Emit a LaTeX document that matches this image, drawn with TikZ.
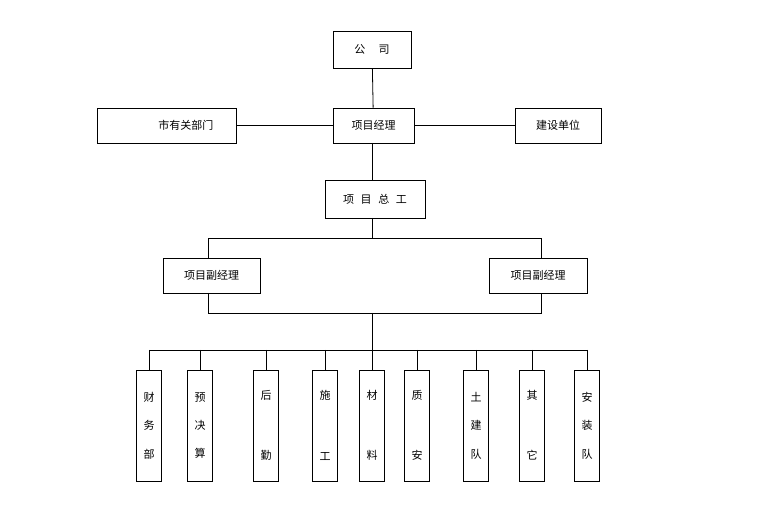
\documentclass[tikz,border=0pt]{standalone}
\usepackage{fontspec}
\setmainfont{Noto Sans CJK SC}
\begin{document}
\begin{tikzpicture}[x=1pt,y=-1pt,
  bx/.style={draw,line width=0.8pt,minimum height=35pt,inner sep=0pt,font=\fontsize{11}{13}\selectfont},
  vb/.style={draw,line width=0.8pt,minimum width=25pt,minimum height=111pt,inner sep=0pt,font=\fontsize{11}{13}\selectfont},
  ln/.style={line width=0.8pt}]
\useasboundingbox (0,0) rectangle (760,526);
\node[bx,minimum width=78pt,minimum height=37pt] (gs) at (372,49.5) {公\hspace{1.2em}司};
\node[bx,minimum width=81pt] (jl) at (373.5,125.5) {项目经理};
\node[bx,minimum width=139pt] (sy) at (166.5,125.5) {\hspace{3.5em}市有关部门};
\node[bx,minimum width=86pt] (js) at (558,125.5) {建设单位};
\node[bx,minimum width=100pt,minimum height=38pt] (zg) at (375,199) {项\hspace{0.6em}目\hspace{0.6em}总\hspace{0.6em}工};
\node[bx,minimum width=97pt] (fl) at (211.5,275.5) {项目副经理};
\node[bx,minimum width=98pt] (fr) at (538,275.5) {项目副经理};
\draw[ln] (gs) -- (jl);
\draw[ln] (sy) -- (jl);
\draw[ln] (jl) -- (js);
\draw[ln] (372,143) -- (372,180);
\coordinate (a) at (372,238);
\draw[ln] (372,218) -- (a);
\draw[ln] (208,258) -- (208,238) -- (541,238) -- (541,258);
\draw[ln] (208,293) -- (208,313) -- (541,313) -- (541,293);
\draw[ln] (372,313) -- (372,350);
\draw[ln] (150,350) -- (587,350);
\foreach \n/\x/\t in {b1/149/{财\\[1.4em]务\\[1.4em]部}, b2/200/{预\\[1.4em]决\\[1.4em]算}, b3/266/{后\\[4.3em]勤},
  b4/325/{施\\[4.3em]工}, b5/372/{材\\[4.3em]料}, b6/417/{质\\[4.3em]安},
  b7/476/{土\\[1.4em]建\\[1.4em]队}, b8/532/{其\\[4.3em]它}, b9/587/{安\\[1.4em]装\\[1.4em]队}} {
  \node[vb,align=center] (\n) at (\x,425.5) {\t};
  \draw[ln] (\x,350) -- (\n.north);
}
\end{tikzpicture}
\end{document}
